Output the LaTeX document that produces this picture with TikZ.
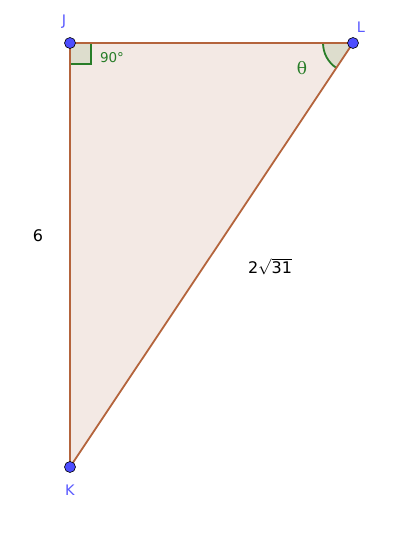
\RequirePackage{fix-cm}
\documentclass[tikz,border=0pt]{standalone}
\usepackage{fontspec}
\setmainfont{DejaVu Sans}
\newfontfamily\thetafont{DejaVu Serif}
\definecolor{edge}{RGB}{180,100,60}
\definecolor{tri}{RGB}{243,233,228}
\definecolor{ang}{RGB}{221,221,205}
\definecolor{angd}{RGB}{40,125,40}
\definecolor{pt}{RGB}{77,77,255}
\definecolor{ptl}{RGB}{90,90,255}
\begin{document}
\begin{tikzpicture}[x=1pt,y=1pt,
  dot/.style={circle,fill=pt,draw=black,line width=0.6pt,inner sep=0pt,minimum size=11pt},
  ptlabel/.style={text=ptl,font=\fontsize{14.5}{16}\selectfont},
  sidelabel/.style={text=black,font=\fontsize{16}{18}\selectfont},
  anglabel/.style={text=angd,font=\fontsize{13.5}{15}\selectfont}]
\useasboundingbox (0,0) rectangle (404,551);
\fill[white] (0,0) rectangle (404,551);
\coordinate (J) at (70,508);
\coordinate (L) at (353,508);
\coordinate (K) at (70,84);
\fill[tri] (J) -- (L) -- (K) -- cycle;
% right angle
\filldraw[fill=ang,draw=angd,line width=1.8pt] (J) rectangle ++(21,-21);
% angle at L
\fill[ang] (L) -- ++(180:30) arc[start angle=180,end angle=236.3,radius=30] -- cycle;
\draw[angd,line width=1.8pt] (L) ++(180:30) arc[start angle=180,end angle=236.3,radius=30];
\draw[edge,line width=1.8pt] (J) -- (L) -- (K) -- cycle;
\node[dot] (Jd) at (J) {};
\node[dot] (Ld) at (L) {};
\node[dot] (Kd) at (K) {};
\node[ptlabel] (Jl) at (64,529) {J};
\node[ptlabel] (Ll) at (361,524) {L};
\node[ptlabel] (Kl) at (70,61) {K};
\node[sidelabel] (s6) at (38,315) {6};
\node[sidelabel] (hyp) at (270,284) {2$\sqrt{\mbox{31}}$};
\node[anglabel,font=\fontsize{17}{19}\selectfont\thetafont] (th) at (302,483) {θ};
\node[anglabel] (a90) at (112,493) {90°};
\end{tikzpicture}
\end{document}
